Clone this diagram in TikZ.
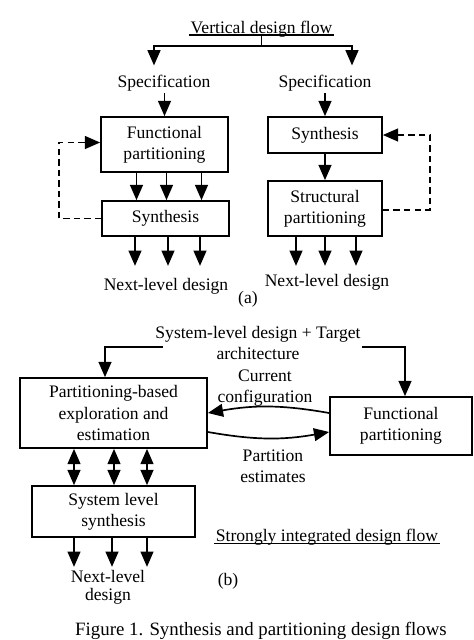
\documentclass[tikz,border=0pt]{standalone}
\usepackage{fontspec}
\setmainfont{Liberation Serif}
\usetikzlibrary{arrows.meta,positioning,calc}

\begin{document}
\begin{tikzpicture}[
    x=0.025cm, y=-0.025cm,
    every node/.style={font=\fontsize{12.5}{15}\selectfont},
    block/.style={rectangle, draw=black, line width=1.2pt, align=center, inner sep=0pt},
    txt/.style={inner sep=1pt, align=center},
    line/.style={draw, line width=1.2pt, -{Triangle[length=0.38cm,width=0.32cm]}},
    dline/.style={line, dash pattern=on 4.5pt off 3pt},
    biline/.style={draw, line width=1.2pt, {Triangle[length=0.38cm,width=0.32cm]}-{Triangle[length=0.38cm,width=0.32cm]}},
    uline/.style={draw, line width=0.9pt}
  ]
    \useasboundingbox (0,0) rectangle (474,640);

    \node [txt, anchor=base] (vflow) at (261.5,33) {Vertical design flow};
    \draw [uline] ([yshift=-1.5pt]vflow.base west) -- ([yshift=-1.5pt]vflow.base east);
    \node [txt, anchor=base] (spec1) at (164,87.5) {Specification};
    \node [txt, anchor=base] (spec2) at (325,87.5) {Specification};
    \node [block, minimum width=3.175cm, minimum height=1.375cm] (fp) at (164.5,144.5) {Functional\\partitioning};
    \node [block, minimum width=3.175cm, minimum height=0.875cm] (syn1) at (165.5,218.5) {Synthesis};
    \node [block, minimum width=2.85cm, minimum height=0.9cm] (syn2) at (325,135) {Synthesis};
    \node [block, minimum width=2.85cm, minimum height=1.375cm] (sp) at (325,208.5) {Structural\\partitioning};
    \node [txt, anchor=base] (next1) at (166,290) {Next-level design};
    \node [txt, anchor=base] (next2) at (327,286) {Next-level design};
    \node [txt, anchor=base] (capa) at (248,303) {(a)};

    \draw [line width=1.2pt] ([yshift=-1.5pt]vflow.base) -- ++(0,11) coordinate (fork);
    \draw [line] (fork) -| ($(spec1.north)+(-10,-8)$);
    \draw [line] (fork) -| ($(spec2.north)+(27,-8)$);
    \draw [line] (spec1.south -| fp.north) -- (fp.north);
    \draw [line] (spec2.south -| syn2.north) -- (syn2.north);
    \foreach \dx in {-28,2,37}
      \draw [line] ($(fp.south)+(\dx,0)$) coordinate (t) -- (t |- syn1.north);
    \foreach \dx in {-30.5,2.5,34.5}
      \draw [line] ($(syn1.south)+(\dx,0)$) -- ++(0,29);
    \draw [dline] (syn1.west) -- ++(-42,0) |- ($(fp.west)+(0,-2)$);
    \draw [line] (syn2) -- (sp);
    \draw [dline] ($(sp.east)+(0,1.5)$) -- ++(47,0) |- (syn2.east);
    \foreach \dx in {-29,0,31}
      \draw [line] ($(sp.south)+(\dx,0)$) -- ++(0,29);

    \node [txt] (sysd) at (258,343) {System-level design + Target\\architecture};
    \node [block, minimum width=4.675cm, minimum height=1.75cm] (pbe) at (113.5,413) {Partitioning-based\\exploration and\\estimation};
    \node [block, minimum width=3.55cm, minimum height=1.45cm] (fp2) at (401,426) {Functional\\partitioning};
    \node [txt] (curcfg) at (265,388.5) {Current\\configuration};
    \node [txt] (pest) at (273,466.5) {Partition\\estimates};
    \node [block, minimum width=4.075cm, minimum height=1.275cm] (sls) at (113.5,511.5) {System level\\synthesis};
    \node [txt, font=\fontsize{12.5}{13}\selectfont] (next3) at (108,587) {Next-level\\design};
    \node [txt, anchor=base] (sflow) at (327,541.5) {Strongly integrated design flow};
    \draw [uline] ([yshift=-1.5pt]sflow.base west) -- ([yshift=-1.5pt]sflow.base east);
    \node [txt, anchor=base] (capb) at (228,585) {(b)};
    \node [txt, anchor=base, font=\fontsize{13.4}{16}\selectfont] (fig) at (261,635) {Figure 1. Synthesis and partitioning design flows};

    \draw [line] ($(sysd.west)+(9,4)$) -| ($(pbe.north)+(-8.5,0)$);
    \draw [line] ($(sysd.east)+(0,4)$) -| ($(fp2.north)+(4,0)$);
    \draw [line] ($(fp2.west)+(0,-13)$) to[bend right=10] (pbe.east);
    \draw [line] ($(pbe.east)+(0,19)$) to[bend right=10] ($(fp2.west)+(0,6)$);
    \foreach \dx in {-39.5,0.5,33.5}
      \draw [biline] ($(pbe.south)+(\dx,0)$) coordinate (t) -- (t |- sls.north);
    \foreach \dx in {-39.5,-1.5,33.5}
      \draw [line] ($(sls.south)+(\dx,0)$) -- ++(0,29);
\end{tikzpicture}
\end{document}
